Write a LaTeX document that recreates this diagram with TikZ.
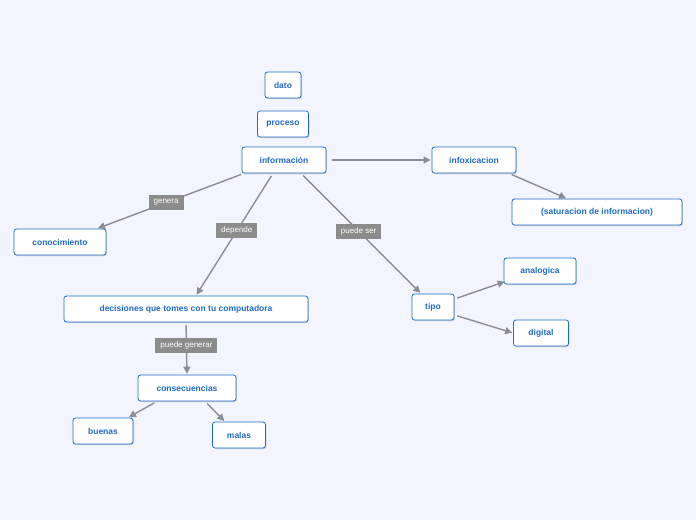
\documentclass[tikz,border=0pt]{standalone}
\usepackage{fontspec}
\setmainfont{Liberation Sans}
\usetikzlibrary{arrows.meta,shadows}
\definecolor{bg}{HTML}{F2F5FD}
\definecolor{tb}{HTML}{1E6CC8}
\definecolor{ln}{HTML}{8A8D96}
\definecolor{lb}{HTML}{8C8C8C}
\tikzset{
 topic/.style={draw=tb,fill=white,rounded corners=2.5pt,line width=0.8pt,text=tb,font=\fontsize{8.5}{10}\selectfont\bfseries,minimum height=26pt,inner xsep=9pt,drop shadow={shadow xshift=0.8pt,shadow yshift=-1pt,opacity=0.35}},
 conn/.style={draw=ln,line width=1.4pt,-{Triangle[length=7pt,width=7pt]},shorten <=3pt,shorten >=1pt},
 lab/.style={fill=lb,text=white,font=\fontsize{8}{9}\selectfont,inner xsep=5pt,inner ysep=2.5pt,minimum height=15pt}
}
\begin{document}
\begin{tikzpicture}[x=1pt,y=-1pt]
\path[fill=bg] (0,0) rectangle (696,520);
\node[topic] (dato) at (283,85) {dato};
\node[topic] (proc) at (283,124) {proceso};
\node[topic,minimum width=84pt] (info) at (284,160) {información};
\node[topic,minimum width=84pt] (infox) at (474,160) {infoxicacion};
\node[topic,minimum width=170pt] (sat) at (597,212) {(saturacion de informacion)};
\node[topic,minimum width=92pt] (con) at (60,242) {conocimiento};
\node[topic,minimum width=244pt] (dec) at (186,309) {decisiones que tomes con tu computadora};
\node[topic,minimum width=42pt] (tipo) at (433,307) {tipo};
\node[topic,minimum width=72pt] (ana) at (540,271) {analogica};
\node[topic,minimum width=55pt] (dig) at (541,333) {digital};
\node[topic,minimum width=98pt] (cons) at (187,388) {consecuencias};
\node[topic,minimum width=60pt] (bue) at (103,431) {buenas};
\node[topic,minimum width=53pt] (mal) at (239,435) {malas};
\draw[conn,shorten <=6pt] (info) -- (infox);
\draw[conn] ([xshift=35pt]infox.south) -- ([xshift=-30pt]sat.north);
\draw[conn] ([xshift=-40pt]info.south) -- node[lab,pos=0.53]{genera} ([xshift=37pt]con.north);
\draw[conn] ([xshift=-11pt]info.south) -- node[lab,pos=0.47]{depende} ([xshift=10pt]dec.north);
\draw[conn] ([xshift=17pt]info.south) -- node[lab,pos=0.48]{puede ser} ([xshift=-12pt]tipo.north);
\draw[conn] ([yshift=8pt]tipo.east) -- ([xshift=2pt,yshift=3pt]ana.south west);
\draw[conn] ([yshift=-8pt]tipo.east) -- (dig.west);
\draw[conn] (dec.south) -- node[lab,pos=0.45]{puede generar} (cons.north);
\draw[conn] ([xshift=-30pt]cons.south) -- ([xshift=25pt]bue.north);
\draw[conn] ([xshift=18pt]cons.south) -- ([xshift=-14pt]mal.north);
\end{tikzpicture}
\end{document}
